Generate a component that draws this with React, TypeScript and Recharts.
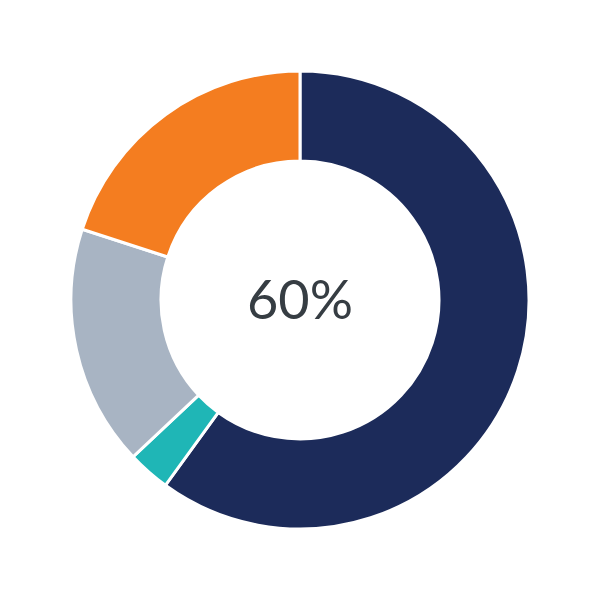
import React from 'react';
import { PieChart, Pie, Cell, Label } from 'recharts';

// Share of each segment, clockwise from 12 o'clock
const segments = ['Primary', 'Secondary', 'Other', 'Remaining'];
const shares = [60, 3, 17, 20];
const colors = ['#1c2b5a', '#1fb6b6', '#a8b4c3', '#f47d20'];
const centerLabel = '60%';

const data = segments.map((name, i) => ({ name, value: shares[i] }));

export default function App() {
  return (
    <div style={{ position: 'absolute', left: 0, top: 0, width: 600, height: 600, background: '#fff' }}>
      <PieChart width={600} height={600} margin={{ top: 0, right: 0, bottom: 0, left: 0 }}>
        <Pie
          data={data}
          dataKey="value"
          nameKey="name"
          cx={300}
          cy={300}
          innerRadius={139}
          outerRadius={229}
          startAngle={90}
          endAngle={-270}
          stroke="#ffffff"
          strokeWidth={3}
          isAnimationActive={false}
        >
          {data.map((d, i) => (
            <Cell key={d.name} fill={colors[i]} />
          ))}
          <Label
            value={centerLabel}
            position="center"
            fill="#363d43"
            style={{ fontFamily: 'Lato, sans-serif', fontSize: 54, fontWeight: 400 }}
          />
        </Pie>
      </PieChart>
    </div>
  );
}
